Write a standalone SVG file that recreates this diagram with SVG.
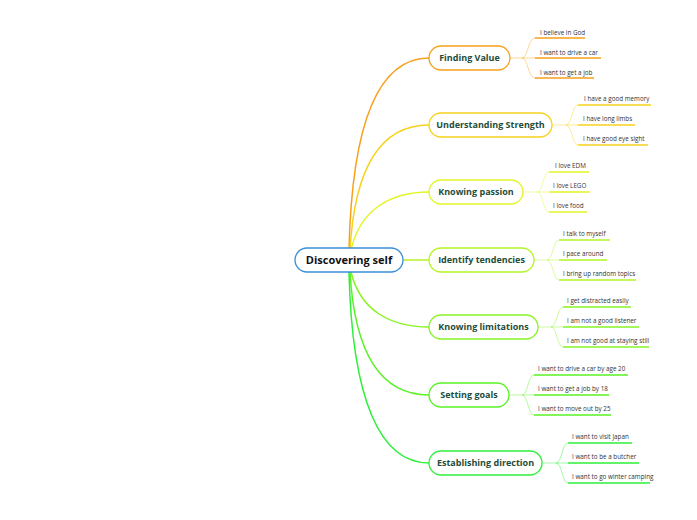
<svg xmlns="http://www.w3.org/2000/svg" width="697" height="520" viewBox="0 0 697 520">
<style>
.bt{font-family:"Open Sans","Noto Sans",sans-serif;font-weight:bold;font-size:9px;fill:#1e4d3a;text-anchor:middle}
.ct{font-family:"Open Sans","Noto Sans",sans-serif;font-size:6.3px;fill:#333}
.box{fill:#fff;stroke-width:1.3}
.c{fill:none;stroke-width:1.5}
.s{fill:none;stroke-width:0.8;opacity:0.55}
.u{stroke-width:1.3}
</style>
<rect width="697" height="520" fill="#fff"/>
<g id="connectors">
<path class="c" stroke="#f7a01c" d="M349 250 C352 120,380 58,429 58"/>
<path class="c" stroke="#f7d21c" d="M350 250 C355 160,385 125,429 125"/>
<path class="c" stroke="#e2f524" d="M351 250 C360 210,390 192,429 192"/>
<path class="c" stroke="#b4f524" d="M403 260 H429"/>
<path class="c" stroke="#88f424" d="M351 272 C360 310,390 327,429 327"/>
<path class="c" stroke="#58f224" d="M350 272 C355 360,385 395,429 395"/>
<path class="c" stroke="#2ef03a" d="M349 272 C352 400,380 463,429 463"/>
<g stroke="#f7a01c"><path class="s" d="M510 58 H522 C528 58,528 38,535 38 M522 58 H535 M522 58 C528 58,528 78,535 78"/><path class="u" d="M535 38H585M535 58H601M535 78H594"/></g>
<g stroke="#f7d21c"><path class="s" d="M552 125 H566 C572 125,572 105,578 105 M566 125 H578 M566 125 C572 125,572 145,578 145"/><path class="u" d="M578 105H651M578 125H635M578 145H648"/></g>
<g stroke="#e2f524"><path class="s" d="M523 192 H537 C543 192,543 172,549 172 M537 192 H549 M537 192 C543 192,543 212,549 212"/><path class="u" d="M549 172H589M549 192H590M549 212H587"/></g>
<g stroke="#b4f524"><path class="s" d="M534 260 H547 C553 260,553 240,559 240 M547 260 H559 M547 260 C553 260,553 280,559 280"/><path class="u" d="M559 240H610M559 260H607M559 280H636"/></g>
<g stroke="#88f424"><path class="s" d="M538 327 H551 C557 327,557 307,563 307 M551 327 H563 M551 327 C557 327,557 347,563 347"/><path class="u" d="M563 307H631M563 327H639M563 347H649"/></g>
<g stroke="#58f224"><path class="s" d="M509 395 H522 C528 395,528 375,534 375 M522 395 H534 M522 395 C528 395,528 415,534 415"/><path class="u" d="M534 375H628M534 395H609M534 415H611"/></g>
<g stroke="#2ef03a"><path class="s" d="M542 463 H556 C562 463,562 443,568 443 M556 463 H568 M556 463 C562 463,562 483,568 483"/><path class="u" d="M568 443H632M568 463H639M568 483H650"/></g>
</g>
<g id="root"><rect x="295" y="248" width="108" height="24" rx="12" fill="#fff" stroke="#3a8fd6" stroke-width="1.3"/><text x="349" y="264" style="font-family:'Open Sans','Noto Sans',sans-serif;font-weight:bold;font-size:11px;fill:#111;text-anchor:middle">Discovering self</text></g>
<g id="b1"><rect class="box" x="429" y="46" width="81" height="24" rx="12" stroke="#f7a01c"/><text class="bt" x="469.5" y="61">Finding Value</text>
<text class="ct" x="540" y="35">I believe in God</text><text class="ct" x="540" y="55">I want to drive a car</text><text class="ct" x="540" y="75">I want to get a job</text></g>
<g id="b2"><rect class="box" x="429" y="113" width="123" height="24" rx="12" stroke="#f7d21c"/><text class="bt" x="490.5" y="128">Understanding Strength</text>
<text class="ct" x="584" y="101">I have a good memory</text><text class="ct" x="583" y="121">I have long limbs</text><text class="ct" x="583" y="141">I have good eye sight</text></g>
<g id="b3"><rect class="box" x="429" y="180" width="94" height="24" rx="12" stroke="#e2f524"/><text class="bt" x="476" y="195">Knowing passion</text>
<text class="ct" x="555" y="168">I love EDM</text><text class="ct" x="553" y="188">I love LEGO</text><text class="ct" x="553" y="208">I love food</text></g>
<g id="b4"><rect class="box" x="429" y="248" width="105" height="24" rx="12" stroke="#b4f524"/><text class="bt" x="481.5" y="263">Identify tendencies</text>
<text class="ct" x="563" y="236">I talk to myself</text><text class="ct" x="563" y="256">I pace around</text><text class="ct" x="563" y="276">I bring up random topics</text></g>
<g id="b5"><rect class="box" x="429" y="315" width="109" height="24" rx="12" stroke="#88f424"/><text class="bt" x="483.5" y="330">Knowing limitations</text>
<text class="ct" x="567" y="303">I get distracted easily</text><text class="ct" x="567" y="323">I am not a good listener</text><text class="ct" x="567" y="343">I am not good at staying still</text></g>
<g id="b6"><rect class="box" x="429" y="383" width="80" height="24" rx="12" stroke="#58f224"/><text class="bt" x="469" y="398">Setting goals</text>
<text class="ct" x="538" y="371">I want to drive a car by age 20</text><text class="ct" x="538" y="391">I want to get a job by 18</text><text class="ct" x="538" y="411">I want to move out by 25</text></g>
<g id="b7"><rect class="box" x="429" y="451" width="113" height="24" rx="12" stroke="#2ef03a"/><text class="bt" x="485.5" y="466">Establishing direction</text>
<text class="ct" x="572" y="439">I want to visit Japan</text><text class="ct" x="572" y="459">I want to be a butcher</text><text class="ct" x="572" y="479">I want to go winter camping</text></g>
</svg>
